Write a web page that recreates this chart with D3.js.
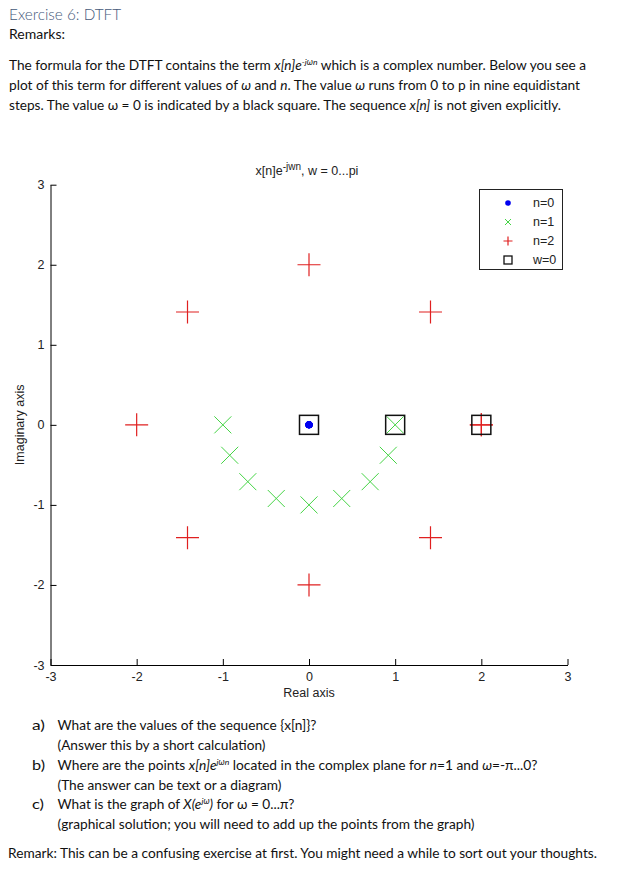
<!DOCTYPE html>
<html>
<head>
<meta charset="utf-8">
<script src="https://cdn.jsdelivr.net/npm/d3@7"></script>
<style>
  html, body { margin: 0; padding: 0; background: #fff; }
  svg { display: block; }
</style>
</head>
<body>
<svg id="page" width="630" height="889"></svg>
<script>
// ---------------- data ----------------
const seriesNames = ["n=0", "n=1", "n=2", "w=0"];
// n = 0 : all nine omega values land on the origin
const n0Re = [0, 0, 0, 0, 0, 0, 0, 0, 0];
const n0Im = [0, 0, 0, 0, 0, 0, 0, 0, 0];
// n = 1 : omega = 0 ... pi
const n1Re = [1, 0.92, 0.71, 0.38, 0, -0.38, -0.71, -0.92, -1];
const n1Im = [0, -0.38, -0.71, -0.92, -1, -0.92, -0.71, -0.38, 0];
// n = 2 : omega = 0 ... pi
const n2Re = [2, 1.41, 0, -1.41, -2, -1.41, 0, 1.41, 2];
const n2Im = [0, -1.41, -2, -1.41, 0, 1.41, 2, 1.41, 0];
// omega = 0 markers
const w0Re = [0, 1, 2];
const w0Im = [0, 0, 0];
const xTicks = [-3, -2, -1, 0, 1, 2, 3];
const yTicks = [-3, -2, -1, 0, 1, 2, 3];

// ---------------- page ----------------
const svg = d3.select("#page");
const bodyFont = "Lato, 'Open Sans', sans-serif";
const chartFont = "'Liberation Sans', Arial, sans-serif";

function textLine(x, y, len, parts, opts = {}) {
  const t = svg.append("text")
    .attr("x", x).attr("y", y)
    .attr("font-family", opts.font || bodyFont)
    .attr("font-size", opts.size || 13.5)
    .attr("font-weight", opts.weight || 400)
    .attr("fill", opts.color || "#111")
    .attr("textLength", len)
    .attr("lengthAdjust", "spacingAndGlyphs");
  let raised = false;
  parts.forEach(p => {
    const [s, st] = typeof p === "string" ? [p, ""] : p;
    const ts = t.append("tspan").text(s);
    if (st.includes("i")) ts.attr("font-style", "italic");
    if (st.includes("s")) {
      ts.attr("font-size", 8.5).attr("dy", -5);
      raised = true;
    } else if (raised) {
      ts.attr("dy", 5);
      raised = false;
    }
  });
  return t;
}

textLine(9, 20, 112, ["Exercise 6: DTFT"], {size: 16.5, weight: 300, color: "#45597a"});
textLine(9, 39, 56, ["Remarks:"]);
textLine(9, 70, 577, ["The formula for the DTFT contains the term ", ["x[n]e", "i"], ["-jωn", "is"], " which is a complex number. Below you see a"]);
textLine(9, 90, 571, ["plot of this term for different values of ", ["ω", "i"], " and ", ["n", "i"], ". The value ", ["ω", "i"], " runs from 0 to p in nine equidistant"]);
textLine(9, 110, 552, ["steps. The value ω = 0 is indicated by a black square. The sequence ", ["x[n]", "i"], " is not given explicitly."]);

textLine(32, 730, 13, ["a)"]);
textLine(57.5, 730, 259, ["What are the values of the sequence {x[n]}?"]);
textLine(57.5, 750, 208, ["(Answer this by a short calculation)"]);
textLine(32, 770, 13, ["b)"]);
textLine(57.5, 770, 480, ["Where are the points ", ["x[n]e", "i"], ["jωn", "is"], " located in the complex plane for ", ["n", "i"], "=1 and ", ["ω", "i"], "=-π...0?"]);
textLine(57.5, 790, 224, ["(The answer can be text or a diagram)"]);
textLine(32, 809, 12, ["c)"]);
textLine(57.5, 809, 237, ["What is the graph of ", ["X(e", "i"], ["jω", "is"], [")", "i"], " for ω = 0...π?"]);
textLine(57.5, 829, 417, ["(graphical solution; you will need to add up the points from the graph)"]);
textLine(8, 858, 589, ["Remark: This can be a confusing exercise at first. You might need a while to sort out your thoughts."]);

// ---------------- chart ----------------
const x = d3.scaleLinear().domain([-3, 3]).range([50.5, 567.5]);
const y = d3.scaleLinear().domain([-3, 3]).range([665, 184.7]);
const g = svg.append("g");
const fs = 12.5;

const xAxis = g.append("g")
  .attr("transform", `translate(0,${y(-3)})`)
  .call(d3.axisBottom(x).tickValues(xTicks).tickFormat(d3.format("d")).tickSize(-6).tickSizeOuter(0).tickPadding(7));
const yAxis = g.append("g")
  .attr("transform", `translate(${x(-3)},0)`)
  .call(d3.axisLeft(y).tickValues(yTicks).tickFormat(d3.format("d")).tickSize(-6).tickSizeOuter(0).tickPadding(6));
[xAxis, yAxis].forEach(a => {
  a.selectAll("path,line").attr("stroke", "#000").attr("stroke-width", 1);
  a.selectAll("text").attr("font-family", chartFont).attr("font-size", fs).attr("fill", "#222");
});
xAxis.selectAll("text").text(d => d < 0 ? "-" + Math.abs(d) : d);
yAxis.selectAll("text").text(d => d < 0 ? "-" + Math.abs(d) : d);

// axis labels and title
g.append("text").attr("x", x(0)).attr("y", 697).attr("text-anchor", "middle")
  .attr("font-family", chartFont).attr("font-size", fs).attr("fill", "#222").text("Real axis");
g.append("text").attr("transform", `translate(24,${y(0)}) rotate(-90)`).attr("text-anchor", "middle")
  .attr("font-family", chartFont).attr("font-size", fs).attr("fill", "#222").text("Imaginary axis");
const title = g.append("text").attr("x", x(0) - 2).attr("y", 175).attr("text-anchor", "middle")
  .attr("font-family", chartFont).attr("font-size", fs).attr("fill", "#222");
title.append("tspan").text("x[n]e");
title.append("tspan").attr("dy", -5).attr("font-size", 10).text("-jwn");
title.append("tspan").attr("dy", 5).text(", w = 0...pi");

// markers
function plusPath(s) { return `M${-s},0H${s}M0,${-s}V${s}`; }
function crossPath(s) { return `M${-s},${-s}L${s},${s}M${-s},${s}L${s},${-s}`; }

const n0 = n0Re.map((r, i) => [r, n0Im[i]]);
const n1 = n1Re.map((r, i) => [r, n1Im[i]]);
const n2 = n2Re.map((r, i) => [r, n2Im[i]]);
const w0 = w0Re.map((r, i) => [r, w0Im[i]]);

g.selectAll(".n0").data(n0).join("circle")
  .attr("cx", d => x(d[0])).attr("cy", d => y(d[1])).attr("r", 3.5).attr("fill", "#0000f0");
g.selectAll(".n1").data(n1).join("path")
  .attr("transform", d => `translate(${x(d[0])},${y(d[1])})`)
  .attr("d", crossPath(8.5)).attr("stroke", "#45d445").attr("stroke-width", 1).attr("fill", "none");
g.selectAll(".n2").data(n2).join("path")
  .attr("transform", d => `translate(${x(d[0])},${y(d[1])})`)
  .attr("d", plusPath(11.5)).attr("stroke", "#e02020").attr("stroke-width", 1.2).attr("fill", "none");
g.selectAll(".w0").data(w0).join("rect")
  .attr("x", d => x(d[0]) - 9.5).attr("y", d => y(d[1]) - 9.5)
  .attr("width", 19).attr("height", 19)
  .attr("fill", "none").attr("stroke", "#111").attr("stroke-width", 1.5);

// legend
const leg = g.append("g");
leg.append("rect").attr("x", 479.5).attr("y", 189.5).attr("width", 83).attr("height", 80)
  .attr("fill", "#fff").attr("stroke", "#222").attr("stroke-width", 1);
const rowY = [203, 222, 241, 260];
seriesNames.forEach((name, i) => {
  const cy = rowY[i], cx = 508;
  if (i === 0) leg.append("circle").attr("cx", cx).attr("cy", cy).attr("r", 2.8).attr("fill", "#0000f0");
  if (i === 1) leg.append("path").attr("transform", `translate(${cx},${cy})`).attr("d", crossPath(3))
    .attr("stroke", "#45d445").attr("stroke-width", 1).attr("fill", "none");
  if (i === 2) leg.append("path").attr("transform", `translate(${cx},${cy})`).attr("d", plusPath(4.5))
    .attr("stroke", "#e02020").attr("stroke-width", 1.2).attr("fill", "none");
  if (i === 3) leg.append("rect").attr("x", cx - 4).attr("y", cy - 4).attr("width", 8).attr("height", 8)
    .attr("fill", "none").attr("stroke", "#111").attr("stroke-width", 1.3);
  leg.append("text").attr("x", 533).attr("y", cy + 4.3)
    .attr("font-family", chartFont).attr("font-size", fs).attr("fill", "#222").text(name);
});
</script>
</body>
</html>
